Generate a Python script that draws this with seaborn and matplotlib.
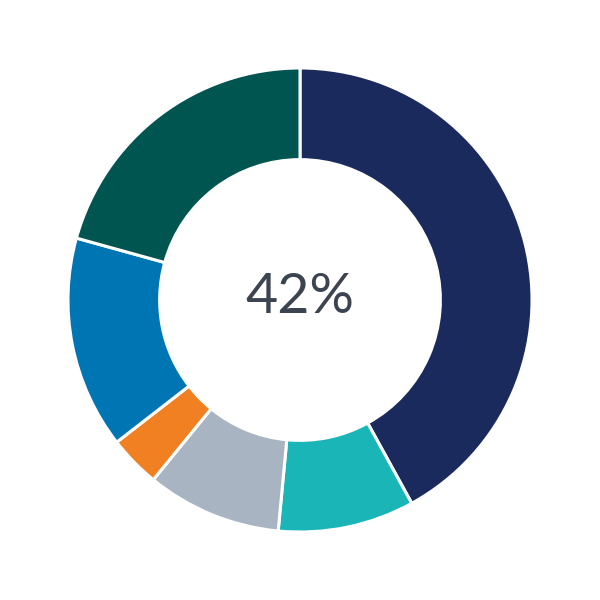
import matplotlib
matplotlib.use('Agg')
import matplotlib.pyplot as plt
import seaborn as sns

# Slice values (percent), clockwise from 12 o'clock
labels = ['Navy', 'Teal', 'Grey', 'Orange', 'Blue', 'Green']
values = [42, 9.5, 9.4, 3.6, 14.8, 20.7]
colors = ['#1b2a5c', '#1ab5b7', '#a9b4c2', '#f08022', '#0075b4', '#015550']
center_label = '42%'

sns.set_theme(style='white')
plt.rcParams['font.family'] = ['Lato', 'DejaVu Sans']

fig = plt.figure(figsize=(6, 6), dpi=100)
ax = fig.add_axes([0, 0, 1, 1])

ax.pie(values, colors=colors, startangle=90, counterclock=False,
       radius=1.0,
       wedgeprops=dict(width=0.395, edgecolor='white', linewidth=2.2))

ax.text(0, 0.01, center_label, ha='center', va='center',
        fontsize=40, color='#3d4451', fontweight='normal')

ax.set_xlim(-1.293, 1.293)
ax.set_ylim(-1.293, 1.293)
ax.set_aspect('equal')
ax.axis('off')

fig.savefig('out.png', dpi=100, facecolor='white')
